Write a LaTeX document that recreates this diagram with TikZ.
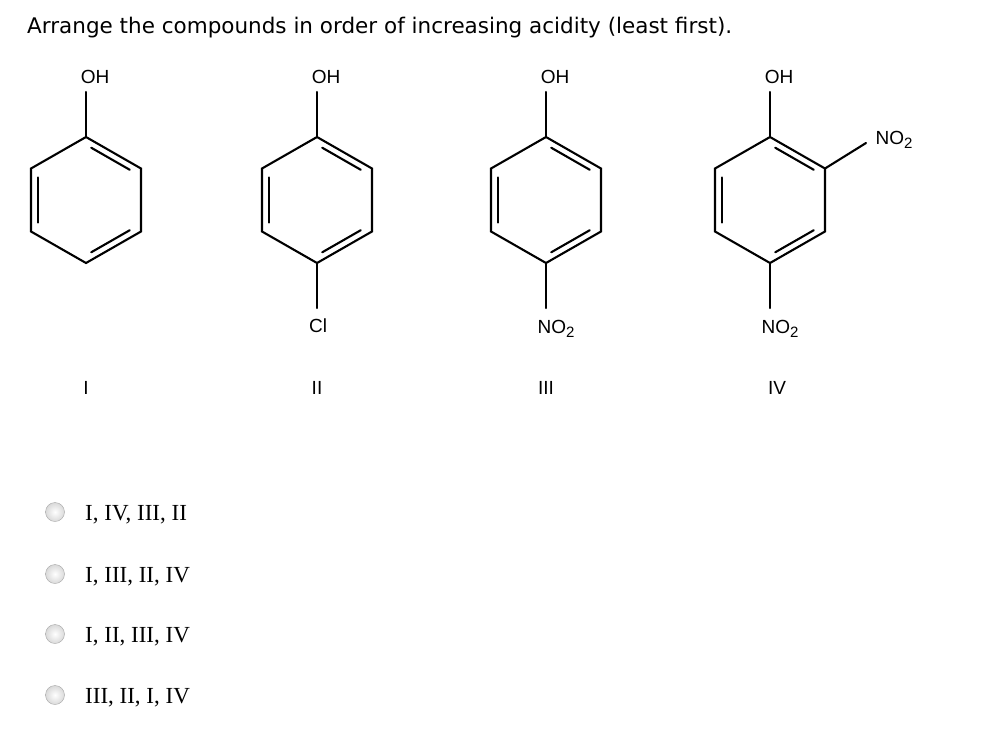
\documentclass[tikz,border=0pt]{standalone}
\usepackage{fontspec}
\usetikzlibrary{calc}
\setmainfont{Liberation Sans}
\newfontfamily\titlef{DejaVu Sans}
\newfontfamily\serf{Liberation Serif}
\newcommand{\nitro}{NO\raisebox{-0.45ex}{\fontsize{15}{15}\selectfont 2}}
\begin{document}
\begin{tikzpicture}[x=1pt,y=-1pt,
  bond/.style={line width=2.1pt,line cap=round},
  lab/.style={font=\fontsize{19}{19}\selectfont,inner sep=0pt},
  opt/.style={font=\serf\fontsize{23}{23}\selectfont,anchor=west,inner sep=0pt},
  radio/.style={circle,minimum size=19pt,inner sep=0pt,draw=gray!70,shading=radial,inner color=white,outer color=gray!30}]
\useasboundingbox (0,0) rectangle (1000,742);
\fill[white] (0,0) rectangle (1000,742);
\node[anchor=west,inner sep=0pt,font=\titlef\fontsize{21.5}{22}\selectfont] (title) at (27,28) {Arrange the compounds in order of increasing acidity (least first).};
\foreach \n/\cx in {1/86,2/317,3/546,4/770}{
  \coordinate (t\n) at (\cx,137);
  \coordinate (ur\n) at (\cx+55,168.5);
  \coordinate (lr\n) at (\cx+55,231.5);
  \coordinate (b\n) at (\cx,263);
  \coordinate (ll\n) at (\cx-55,231.5);
  \coordinate (ul\n) at (\cx-55,168.5);
  \draw[bond] (t\n)--(ur\n)--(lr\n)--(b\n)--(ll\n)--(ul\n)--cycle;
  \draw[bond] ($(t\n)!0.15!(ur\n)+(-3,6)$) -- ($(t\n)!0.85!(ur\n)+(-3,6)$);
  \draw[bond] ($(lr\n)!0.15!(b\n)+(-3,-6)$) -- ($(lr\n)!0.85!(b\n)+(-3,-6)$);
  \draw[bond] ($(ul\n)+(7,9)$) -- ($(ll\n)+(7,-9)$);
  \node[lab] (oh\n) at (\cx+9,77) {OH};
  \draw[bond] (t\n) -- (\cx,92);
}
\node[lab] (cl) at (318,326) {Cl};
\node[lab] (n3) at (556,329) {\nitro};
\node[lab] (n4) at (780,329) {\nitro};
\node[lab] (n4b) at (894,140) {\nitro};
\draw[bond] (b2) -- (317,308);
\draw[bond] (b3) -- (546,308);
\draw[bond] (b4) -- (770,308);
\draw[bond] (ur4) -- (866,143);
\node[lab] (r1) at (86,388) {I};
\node[lab] (r2) at (317,388) {II};
\node[lab] (r3) at (546,388) {III};
\node[lab] (r4) at (777,388) {IV};
\foreach \i/\y/\t in {1/512/{I, IV, III, II},2/574/{I, III, II, IV},3/634/{I, II, III, IV},4/695/{III, II, I, IV}}{
  \node[radio] (rb\i) at (55,\y) {};
  \node[opt] (o\i) at (85,\y+3) {\t};
}
\end{tikzpicture}
\end{document}
